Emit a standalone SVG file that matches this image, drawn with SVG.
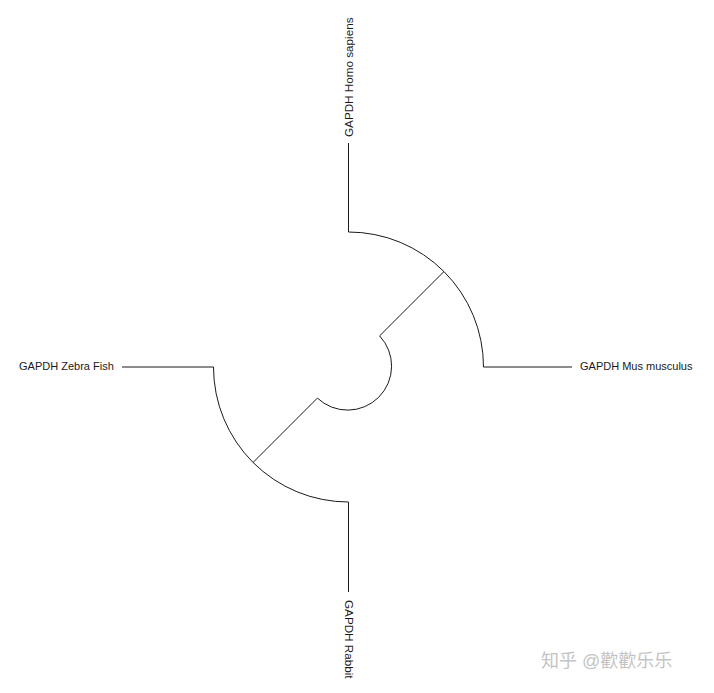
<svg xmlns="http://www.w3.org/2000/svg" width="714" height="693" viewBox="0 0 714 693">
<style>
.edge{fill:none;stroke:#1a1a1a;stroke-width:1}
.lbl{font-family:"Liberation Sans",Arial,sans-serif;font-size:11px;fill:#1a1a1a}
.vlbl{font-family:"Liberation Sans",Arial,sans-serif;font-size:11.7px;fill:#1a1a1a}
.wm{font-family:"Liberation Sans","Noto Sans CJK SC",sans-serif;font-size:18px;fill:#c4c4c4}
</style>
<rect width="714" height="693" fill="#ffffff"/>
<g id="connectors">
<path class="edge" d="M379.6,335.9 A44,44 0 0 1 317.4,398.1"/>
<path class="edge" d="M379.6,335.9 L444,271.5"/>
<path class="edge" d="M317.4,398.1 L253,462.5"/>
<path class="edge" d="M348.5,232 A135,135 0 0 1 483.5,367"/>
<path class="edge" d="M213.5,367 A135,135 0 0 0 348.5,502"/>
<path class="edge" d="M348.5,232 L348.5,143"/>
<path class="edge" d="M483.5,367 L572,367"/>
<path class="edge" d="M213.5,367 L122,367"/>
<path class="edge" d="M348.5,502 L348.5,592"/>
</g>
<g id="node-homo-sapiens"><text class="vlbl" transform="translate(352.5,137) rotate(-90)">GAPDH Homo sapiens</text></g>
<g id="node-mus-musculus"><text class="lbl" x="580" y="370">GAPDH Mus musculus</text></g>
<g id="node-zebra-fish"><text class="lbl" x="19" y="370">GAPDH Zebra Fish</text></g>
<g id="node-rabbit"><text class="vlbl" transform="translate(344.5,600) rotate(90)">GAPDH Rabbit</text></g>
<text class="wm" x="541" y="667">知乎 @歡歡乐乐</text>
</svg>
